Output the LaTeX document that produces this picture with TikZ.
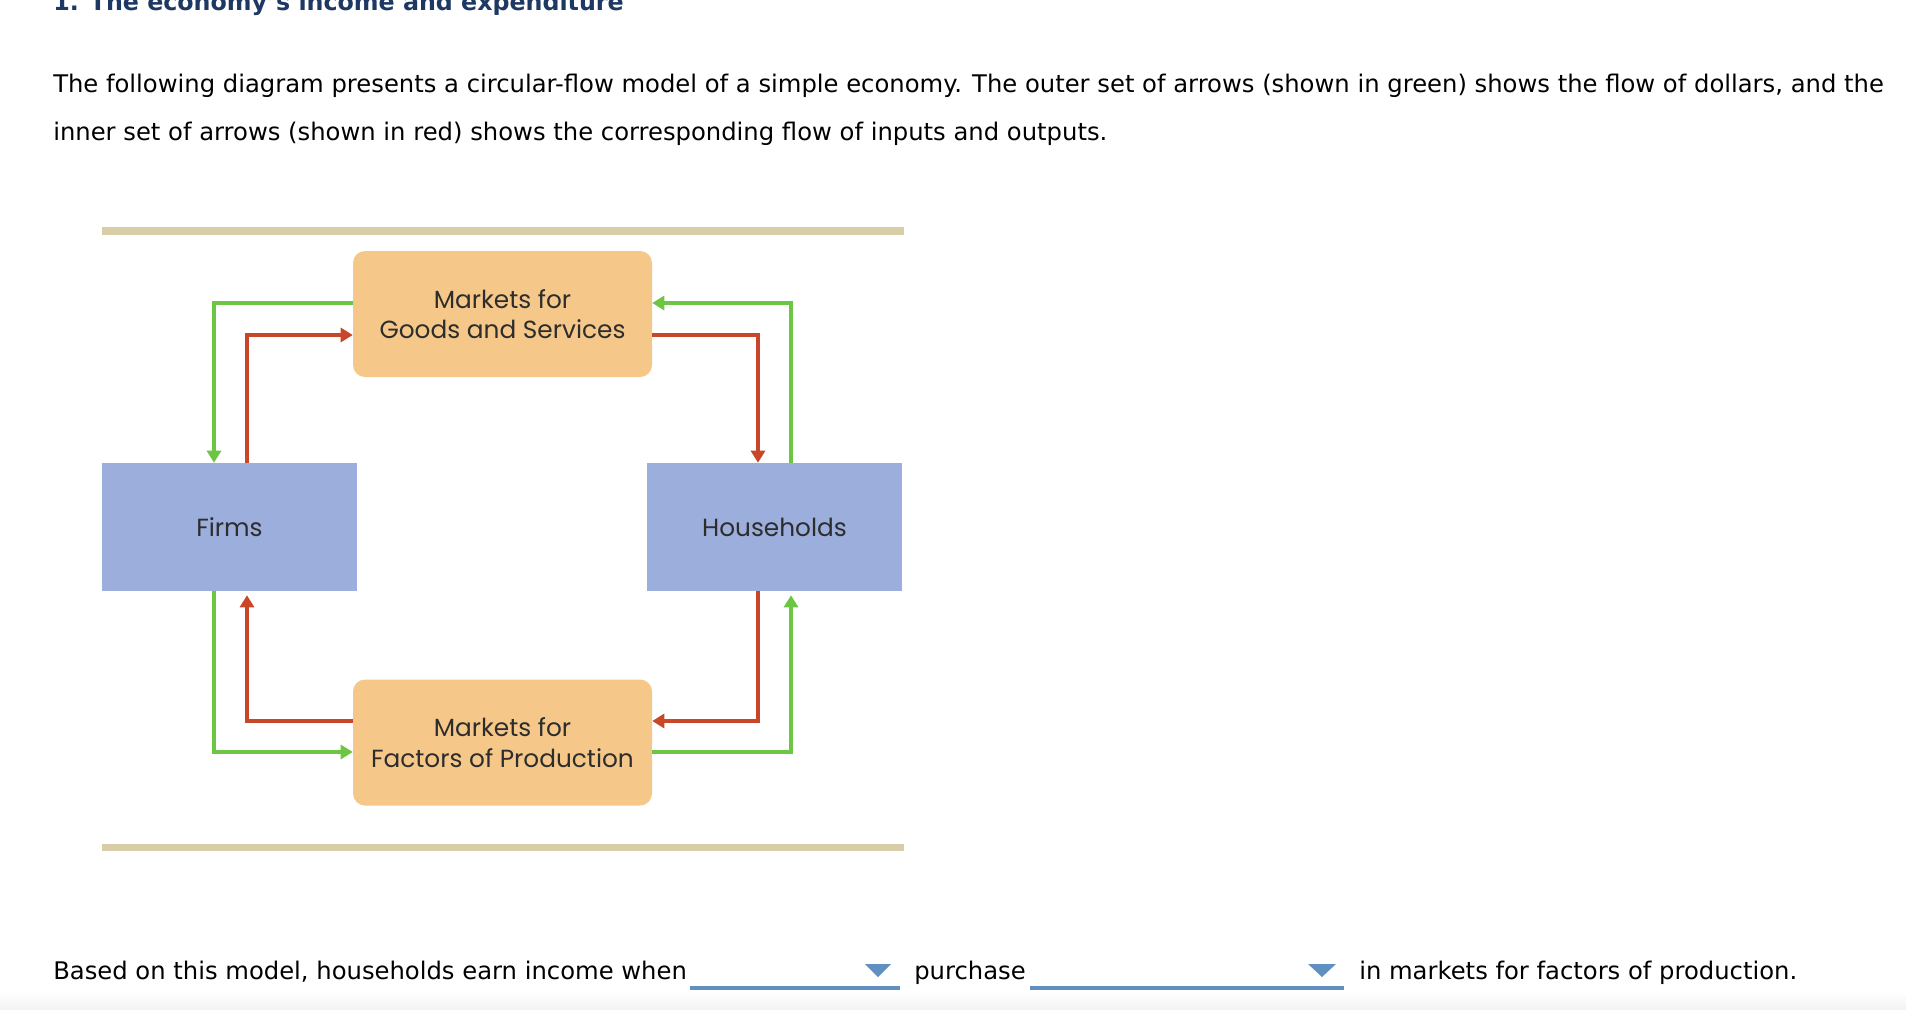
\documentclass[tikz,border=0pt]{standalone}
\usepackage{fontspec}
\setmainfont{DejaVu Sans}
\newfontfamily\boxfont{Poppins}
\usetikzlibrary{arrows.meta,calc}
\definecolor{tanbar}{RGB}{215,205,166}
\definecolor{orangebox}{RGB}{245,200,138}
\definecolor{bluebox}{RGB}{155,174,220}
\definecolor{flowgreen}{RGB}{108,198,68}
\definecolor{flowred}{RGB}{199,71,40}
\definecolor{ddblue}{RGB}{96,144,194}
\definecolor{titlenavy}{RGB}{30,56,100}
\definecolor{labelgray}{RGB}{45,45,45}
\begin{document}
\begin{tikzpicture}[x=0.75pt,y=-0.75pt,
  lbl/.style={font=\boxfont\fontsize{18.6}{22.8}\selectfont, text=labelgray, align=center, inner sep=0pt},
  market/.style={lbl, fill=orangebox, rounded corners=9pt, minimum width=224.25pt, minimum height=94.5pt},
  agent/.style={lbl, fill=bluebox, minimum width=191.25pt, minimum height=96pt},
  flow/.style={line width=3pt, -{Triangle[length=9pt,width=10.5pt]}},
  gflow/.style={flow, draw=flowgreen, line width=2.7pt},
  rflow/.style={flow, draw=flowred},
  body/.style={anchor=base west, inner sep=0pt, font=\fontsize{18.2}{22}\selectfont, text=black}
]
\useasboundingbox (0,0) rectangle (1906,1010);
\fill[white] (0,0) rectangle (1906,1010);
\shade[top color=white, bottom color=black!5] (0,992) rectangle (1906,1010);

% title and text
\node[anchor=base west, inner sep=0pt, text=titlenavy, font=\bfseries\fontsize{17.8}{21}\selectfont] (title) at (53,10) {1. The economy's income and expenditure};
\node[body] (p1) at (53,92) {The following diagram presents a circular-flow model of a simple economy. The outer set of arrows (shown in green) shows the flow of dollars, and the};
\node[body] (p2) at (53,140) {inner set of arrows (shown in red) shows the corresponding flow of inputs and outputs.};

% bars
\fill[tanbar] (102,227) rectangle (904,235);
\fill[tanbar] (102,844) rectangle (904,851);

% nodes
\node[market] (goods) at (502.5,314) {Markets for\\Goods and Services};
\node[market] (factors) at (502.5,742.5) {Markets for\\Factors of Production};
\node[agent] (firms) at (229.5,527) {Firms};
\node[agent] (hh) at (774.5,527) {Households};

% levels
\coordinate (gyT) at (0,303);
\coordinate (ryT) at (0,335);
\coordinate (ryB) at (0,721);
\coordinate (gyB) at (0,752);
\coordinate (gxL) at (214,0);
\coordinate (rxL) at (247,0);
\coordinate (rxR) at (758,0);
\coordinate (gxR) at (791,0);

% flows
\draw[gflow] (goods.west |- gyT) -| (gxL |- firms.north);
\draw[rflow] (rxL |- firms.north) |- (goods.west |- ryT);
\draw[rflow] (goods.east |- ryT) -| (rxR |- hh.north);
\draw[gflow] (gxR |- hh.north) |- (goods.east |- gyT);
\draw[rflow] (factors.west |- ryB) -| ($(rxL |- firms.south)+(0,4)$);
\draw[gflow] (gxL |- firms.south) |- (factors.west |- gyB);
\draw[rflow] (rxR |- hh.south) |- (factors.east |- ryB);
\draw[gflow] (factors.east |- gyB) -| ($(gxR |- hh.south)+(0,4)$);

% question line
\node[body] (q1) at (53,979) {Based on this model, households earn income when};
\fill[ddblue] (690,986) rectangle (900,990);
\fill[ddblue] (865,964) -- (891,964) -- (878,977) -- cycle;
\node[body] (q2) at (914,979) {purchase};
\fill[ddblue] (1030,986) rectangle (1344,990);
\fill[ddblue] (1308,964) -- (1336,964) -- (1322,977) -- cycle;
\node[body] (q3) at (1359,979) {in markets for factors of production.};
\end{tikzpicture}
\end{document}
